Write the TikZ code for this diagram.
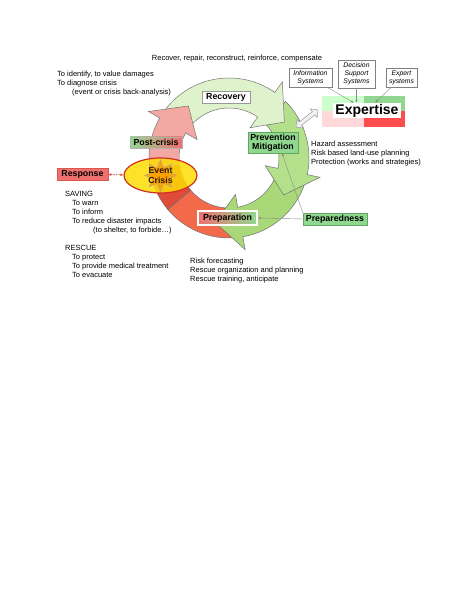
\documentclass[tikz,border=0pt]{standalone}
\usepackage{fontspec}
\setmainfont{Liberation Sans}
\usetikzlibrary{
  arrows.meta,
  calc,
  shapes.geometric,
  shapes.arrows
}
\definecolor{pinkband}{RGB}{244,168,164}
\definecolor{palegreen}{RGB}{222,243,204}
\definecolor{midgreen}{RGB}{180,224,140}
\definecolor{leafgreen}{RGB}{168,216,120}
\definecolor{reddark}{RGB}{224,74,56}
\definecolor{redlight}{RGB}{242,106,74}
\definecolor{boxgreen}{RGB}{144,216,144}
\definecolor{boxgreenline}{RGB}{96,168,96}
\definecolor{responsered}{RGB}{240,112,112}
\definecolor{crisisred}{RGB}{208,48,32}
\tikzset{
  ring/.style={draw=black!55,line width=.5pt},
  tag/.style={
    draw=black!40,
    align=center,
    font=\fontsize{8.8}{9.5}\selectfont\bfseries,
    inner xsep=2pt,
    inner ysep=1pt
  },
  green tag/.style={tag,fill=boxgreen,draw=boxgreenline},
  source/.style={
    draw=black!50,
    fill=white,
    align=center,
    font=\fontsize{6.8}{8}\selectfont\itshape,
    inner sep=1pt
  },
  note/.style={anchor=north west,align=left,inner sep=0pt,font=\fontsize{7.5}{9}\selectfont},
  thin link/.style={draw=black!45,line width=.4pt,-{Latex[length=3pt,width=2.4pt]}}
}
% one headed piece of the cycle: options, start angle, head base, tip angle
\newcommand{\ringpart}[4][]{%
  \filldraw[ring,#1] (#2:80) arc[start angle=#2,end angle=#3,radius=80]
    -- (#3:93) -- (#4:66) -- (#3:37) -- (#3:50)
    arc[start angle=#3,end angle=#2,radius=50] -- cycle;%
}
\newcommand{\ringband}[3][]{%
  \filldraw[ring,#1] (#2:80) arc[start angle=#2,end angle=#3,radius=80]
    -- (#3:50) arc[start angle=#3,end angle=#2,radius=50] -- cycle;%
}

\begin{document}
\begin{tikzpicture}[x=1pt,y=1pt]
  \useasboundingbox (0,0) rectangle (474,613);

  % the cycle
  \begin{scope}[shift={(229,455)}]
    \ringband[fill=redlight]{-80}{-140}
    \ringband[fill=reddark]{-140}{-172}
    \ringpart[fill=leafgreen]{-18}{-80}{-102}
    \ringpart[fill=midgreen]{45}{-12}{-34}
    \ringpart[fill=palegreen]{142}{55}{33}
    \ringpart[fill=pinkband]{188}{150}{128}
  \end{scope}

  % event crisis
  \node[ellipse,draw=crisisred,line width=1.2pt,fill=yellow!80!orange,fill opacity=.85,
    minimum width=73pt,minimum height=35pt] (event) at (160.5,437.5) {};
  \node[star,star points=8,star point ratio=1.9,minimum size=32pt,inner sep=0pt,
    fill=orange!85!yellow,fill opacity=.75,draw=black!35] (burst) at (event.center) {};
  \node[align=center,font=\fontsize{8.8}{9.5}\selectfont\bfseries,text=black!80!orange]
    (eventtext) at (event.center) {Event\\Crisis};

  % phase labels
  \node[tag,fill=white,minimum width=48pt,minimum height=12pt] (recovery) at (226,516) {Recovery};
  \node[green tag,minimum width=50pt,minimum height=21pt] (prevention) at (273,470.5) {Prevention\\Mitigation};
  \node[tag,left color=boxgreen,right color=responsered,draw=black!30,
    minimum width=52pt,minimum height=11pt] (postcrisis) at (156,470.5) {Post-crisis};
  \node[tag,fill=responsered,draw=crisisred!80,minimum width=51pt,minimum height=12pt]
    (response) at (82.5,439) {Response};
  \node[tag,left color=responsered,right color=boxgreen,draw=white,line width=2pt,
    minimum width=59pt,minimum height=14pt] (preparation) at (227.5,395) {Preparation};
  \node[green tag,minimum width=64pt,minimum height=12pt] (preparedness) at (335,394) {Preparedness};

  % expertise and its sources
  \node[minimum width=83pt,minimum height=31pt,inner sep=0pt] (expertise) at (363.5,501.5) {};
  \fill[green!20!white] (expertise.north west) rectangle (expertise.center);
  \fill[boxgreen] (expertise.north) rectangle (expertise.east);
  \fill[red!15!white] (expertise.west) rectangle (expertise.south);
  \fill[red!70!white] (expertise.center) rectangle (expertise.south east);
  \node[fill=white,inner xsep=2pt,inner ysep=0pt,minimum height=15pt,
    font=\fontsize{14}{15}\selectfont\bfseries] (exptext) at (367,502.5) {Expertise};

  \node[source,minimum width=43pt,minimum height=19pt] (info) at (310.5,535.5) {Information\\Systems};
  \node[source,minimum width=37pt,minimum height=28pt] (dss) at (356.5,539) {Decision\\Support\\Systems};
  \node[source,minimum width=31pt,minimum height=19pt] (expert) at (401.5,535.5) {Expert\\systems};
  \draw[thin link] (info) -- (exptext);
  \draw[thin link] (dss.south) -- (dss.south |- exptext.north);
  \draw[thin link] (expert) -- (exptext);

  \node[double arrow,draw=black!45,fill=black!6,minimum height=28pt,minimum width=11pt,
    double arrow head extend=2pt,inner sep=1pt,rotate=38] (exchange) at (307,494.5) {};

  % links
  \draw[draw=crisisred!80,line width=.8pt,dash pattern=on 1.5pt off 1pt,
    {Latex[length=3pt,width=3pt]}-{Latex[length=3pt,width=3pt]}] (response) -- (event);
  \draw[thin link] (preparedness.west) -- (preparation.east);
  \draw[thin link] (preparedness.north west) -- ($(prevention.south)+(9,0)$);

  % notes
  \node[font=\fontsize{7.5}{9}\selectfont] (recover) at (237,554)
    {Recover, repair, reconstruct, reinforce, compensate};
  \node[note] (diagnose) at (57,542)
    {To identify, to value damages\\To diagnose crisis\\\hspace*{15pt}(event or crisis back-analysis)};
  \node[note] (hazard) at (311,472)
    {Hazard assessment\\Risk based land-use planning\\Protection (works and strategies)};
  \node[note] (saving) at (65,422)
    {SAVING\\\hspace*{7pt}To warn\\\hspace*{7pt}To inform\\\hspace*{7pt}To reduce disaster impacts\\\hspace*{28pt}(to shelter, to forbide…)};
  \node[note] (rescue) at (65,368)
    {RESCUE\\\hspace*{7pt}To protect\\\hspace*{7pt}To provide medical treatment\\\hspace*{7pt}To evacuate};
  \node[note] (forecast) at (190,355)
    {Risk forecasting\\Rescue organization and planning\\Rescue training, anticipate};
\end{tikzpicture}
\end{document}
